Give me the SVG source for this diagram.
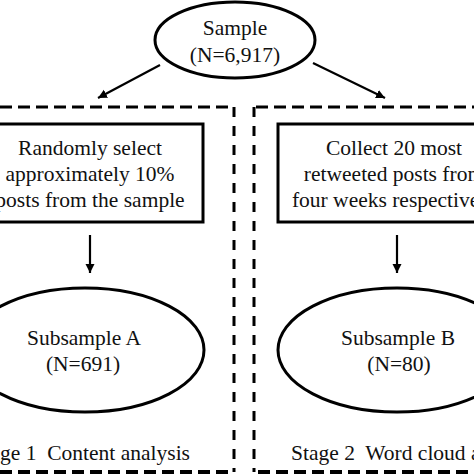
<svg xmlns="http://www.w3.org/2000/svg" width="474" height="474" viewBox="0 0 474 474">
<style>
  .t { font-family: "Liberation Serif", "Times New Roman", serif; font-size: 21.5px; fill: #111; text-anchor: middle; }
  .shape { fill: #fff; stroke: #000; stroke-width: 3; }
  .dash { stroke: #000; stroke-width: 3; fill: none; stroke-dasharray: 12 6; }
  .dashv { stroke: #000; stroke-width: 3; fill: none; stroke-dasharray: 10 9; }
  .arrow { stroke: #000; stroke-width: 2.2; fill: none; marker-end: url(#ah); }
</style>
<defs>
  <marker id="ah" markerUnits="userSpaceOnUse" markerWidth="10" markerHeight="10" refX="9" refY="4.5" orient="auto">
    <path d="M0,0 L9,4.5 L0,9 Z" fill="#000"/>
  </marker>
</defs>
<rect width="474" height="474" fill="#fff"/>

<g id="stage-boxes">
  <line class="dash" x1="0" y1="107" x2="234" y2="107"/>
  <line class="dashv" x1="234" y1="107" x2="234" y2="472"/>
  <line class="dash" x1="0" y1="472" x2="234" y2="472" style="stroke-width:4"/>
  <line class="dash" x1="256" y1="107" x2="474" y2="107"/>
  <line class="dashv" x1="254" y1="107" x2="254" y2="472"/>
  <line class="dash" x1="258" y1="472" x2="474" y2="472" style="stroke-width:4"/>
</g>

<g id="connectors">
  <line class="arrow" x1="160" y1="65" x2="98" y2="98"/>
  <line class="arrow" x1="313" y1="63" x2="385" y2="98"/>
  <line class="arrow" x1="90" y1="235" x2="90" y2="273"/>
  <line class="arrow" x1="397" y1="235" x2="397" y2="273"/>
</g>

<g id="sample">
  <ellipse class="shape" cx="235" cy="40" rx="80" ry="38"/>
  <text class="t" x="235" y="34.5">Sample</text>
  <text class="t" x="235" y="62">(N=6,917)</text>
</g>

<g id="select-random">
  <rect class="shape" x="-24" y="124" width="227" height="98"/>
  <text class="t" x="90" y="155">Randomly select</text>
  <text class="t" x="90" y="181">approximately 10%</text>
  <text class="t" x="90" y="207">posts from the sample</text>
</g>

<g id="collect-retweeted">
  <rect class="shape" x="278" y="124" width="232" height="98"/>
  <text class="t" x="394" y="155">Collect 20 most</text>
  <text class="t" x="394" y="181">retweeted posts from</text>
  <text class="t" x="394" y="207">four weeks respectively</text>
</g>

<g id="subsample-a">
  <ellipse class="shape" cx="85" cy="350" rx="119" ry="62"/>
  <text class="t" x="84" y="345">Subsample A</text>
  <text class="t" x="83" y="371">(N=691)</text>
</g>

<g id="subsample-b">
  <ellipse class="shape" cx="397" cy="350" rx="119" ry="62"/>
  <text class="t" x="398" y="345">Subsample B</text>
  <text class="t" x="399" y="371">(N=80)</text>
</g>

<g id="stage-labels">
  <text class="t" x="190" y="460" style="text-anchor:end" xml:space="preserve">Stage 1  Content analysis</text>
  <text class="t" x="291" y="460" style="text-anchor:start" xml:space="preserve">Stage 2  Word cloud analysis</text>
</g>
</svg>
